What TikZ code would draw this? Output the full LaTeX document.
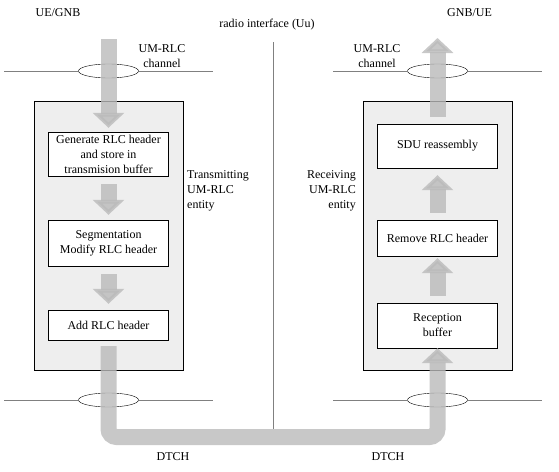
\documentclass[tikz,border=0pt]{standalone}
\usepackage{fontspec}
\setmainfont{Liberation Serif}
\usepackage{tikz}
\usetikzlibrary{arrows.meta,shapes.geometric}
\definecolor{FlowGray}{RGB}{186,186,186}
\definecolor{WireGray}{RGB}{128,128,128}
\definecolor{EntityFill}{RGB}{238,238,238}

\begin{document}
\begin{tikzpicture}[
  x=1pt,y=-1pt,
  font=\fontsize{12}{15}\selectfont,
  entity/.style={draw,fill=EntityFill,minimum width=149pt,minimum height=269pt,inner sep=0pt},
  proc/.style={draw,fill=white,align=center,inner sep=0pt,minimum width=120pt},
  chan/.style={draw,ellipse,fill=white,minimum width=60pt,minimum height=14pt,inner sep=0pt},
  wire/.style={draw=WireGray,line width=0.9pt},
  flow/.style={draw=FlowGray,opacity=0.8,line width=16pt,
               -{Triangle[width=31pt,length=15pt]}},
  lbl/.style={align=center,inner sep=0pt}
]
\useasboundingbox (0,0) rectangle (559,471);

% radio interface
\coordinate (uu-top) at (273,42);
\coordinate (uu-bot) at (273,429);
\draw[wire] (uu-top) -- (uu-bot);

% channels
\node[chan] (chTL) at (108.5,71) {};
\node[chan] (chTR) at (437.5,71) {};
\node[chan] (chBL) at (108.5,400) {};
\node[chan] (chBR) at (437.5,400) {};
\coordinate (tl-w) at (4,71);   \coordinate (tl-e) at (213,71);
\coordinate (tr-w) at (333,71); \coordinate (tr-e) at (542,71);
\coordinate (bl-w) at (4,400);  \coordinate (bl-e) at (213,400);
\coordinate (br-w) at (333,400);\coordinate (br-e) at (542,400);
\draw[wire] (tl-w) -- (chTL.west); \draw[wire] (chTL.east) -- (tl-e);
\draw[wire] (tr-w) -- (chTR.west); \draw[wire] (chTR.east) -- (tr-e);
\draw[wire] (bl-w) -- (chBL.west); \draw[wire] (chBL.east) -- (bl-e);
\draw[wire] (br-w) -- (chBR.west); \draw[wire] (chBR.east) -- (br-e);

% entities
\node[entity] (tx) at (108.5,235.5) {};
\node[entity] (rx) at (437.5,235.5) {};

\node[proc,minimum height=44pt] (gen) at (108.5,154) {Generate RLC header\\and store in\\transmision buffer};
\node[proc,minimum height=46pt] (seg) at (108.5,243) {Segmentation\\Modify RLC header};
\node[proc,minimum height=30pt] (add) at (108.5,325) {Add RLC header};

\node[proc,minimum height=44pt] (sdu) at (437.5,146) {SDU reassembly};
\node[proc,minimum height=36pt] (rem) at (437.5,238) {Remove RLC header};
\node[proc,minimum height=45pt] (rec) at (437.5,325.5) {Reception\\buffer};

% data flow
\coordinate (in-top) at (108.5,39);
\coordinate (out-top) at (437.5,38);
\coordinate (bend) at (273,437);
\draw[flow,shorten >=4pt] (in-top) -- (gen.north);
\draw[flow,shorten <=8pt,shorten >=5pt] (gen.south) -- (seg.north);
\draw[flow,shorten <=8pt,shorten >=6pt] (seg.south) -- (add.north);
\draw[flow,rounded corners=8pt] ([yshift=-6pt]add.south) |- (bend) -| (rec.south);
\draw[flow,shorten <=7pt,shorten >=2pt] (rec.north) -- (rem.south);
\draw[flow,shorten <=7pt,shorten >=7pt] (rem.north) -- (sdu.south);
\draw[flow,shorten <=7pt] (sdu.north) -- (out-top);

% labels
\node[lbl] (ue) at (58,13) {UE/GNB};
\node[lbl] (gnb) at (469.5,13) {GNB/UE};
\node[lbl] (radio) at (267,25) {radio interface (Uu)};
\node[lbl] (umTL) at (162,56) {UM-RLC\\channel};
\node[lbl] (umTR) at (377,56) {UM-RLC\\channel};
\node[lbl,align=left,anchor=west] (txlbl) at (187,191) {Transmitting\\UM-RLC\\entity};
\node[lbl,align=right,anchor=east] (rxlbl) at (356,191) {Receiving\\UM-RLC\\entity};
\node[lbl] (dtchL) at (173,457) {DTCH};
\node[lbl] (dtchR) at (388,457) {DTCH};
\end{tikzpicture}
\end{document}
